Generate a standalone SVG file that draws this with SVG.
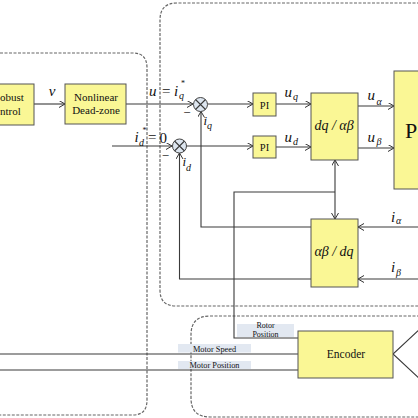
<svg xmlns="http://www.w3.org/2000/svg" width="418" height="418" viewBox="0 0 418 418">
<defs>
<marker id="ar" markerUnits="userSpaceOnUse" markerWidth="8" markerHeight="8" refX="6" refY="3.5" orient="auto">
<path d="M0,0 L6,3.5 L0,7" fill="none" stroke="#333" stroke-width="1"/>
</marker>
<style>
.box{fill:#faf795;stroke:#555;stroke-width:1}
.ln{fill:none;stroke:#3a3a3a;stroke-width:1.1}
.dash{fill:none;stroke:#666;stroke-width:1.2;stroke-dasharray:3 1.5}
.t{font-family:"Liberation Serif",serif;fill:#111}
.i{font-style:italic}
.bg{fill:#e2e8f1}
.sum{fill:#dde6f0;stroke:#444;stroke-width:1}
</style>
</defs>
<rect width="418" height="418" fill="#fff"/>

<g id="frames">
<path class="dash" d="M0,53 H133 Q147,53 147,68 V400 Q147,415 133,415 H0"/>
<path class="dash" d="M420,3 H177 Q160,3 160,20 V290 Q160,306 176,306 H420"/>
<path class="dash" d="M420,316 H210 Q191,316 191,335 V398 Q191,417 210,417 H420"/>
</g>

<g id="connectors">
<path class="ln" d="M34,104 H65" marker-end="url(#ar)"/>
<path class="ln" d="M126,104 H193" marker-end="url(#ar)"/>
<path class="ln" d="M207.5,104 H253" marker-end="url(#ar)"/>
<path class="ln" d="M276,104 H311" marker-end="url(#ar)"/>
<path class="ln" d="M112,146 H172" marker-end="url(#ar)"/>
<path class="ln" d="M186.5,146 H253" marker-end="url(#ar)"/>
<path class="ln" d="M276,147 H311" marker-end="url(#ar)"/>
<path class="ln" d="M358,106 H394" marker-end="url(#ar)"/>
<path class="ln" d="M358,148 H394" marker-end="url(#ar)"/>
<path class="ln" d="M418,227 H358" marker-end="url(#ar)"/>
<path class="ln" d="M418,279 H358" marker-end="url(#ar)"/>
<path class="ln" d="M311,227 H201 V111.5" marker-end="url(#ar)"/>
<path class="ln" d="M311,279 H179.5 V153" marker-end="url(#ar)"/>
<path class="ln" d="M298,338 H234 V192 H335"/>
<path class="ln" d="M335,192 V160" marker-end="url(#ar)"/>
<path class="ln" d="M335,192 V219" marker-end="url(#ar)"/>
<path class="ln" d="M298,354 H0"/>
<path class="ln" d="M298,370 H0"/>
<path class="ln" d="M420,329 L393,354 L420,379"/>
</g>

<g id="robust">
<rect class="box" x="-30" y="84" width="64" height="41"/>
<text class="t" x="0" y="101" font-size="11">obust</text>
<text class="t" x="0" y="115" font-size="11">ntrol</text>
</g>
<text class="t i" x="52" y="96" font-size="15" text-anchor="middle">v</text>

<g id="deadzone">
<rect class="box" x="65" y="84" width="61" height="40"/>
<text class="t" x="96" y="101" font-size="11" text-anchor="middle">Nonlinear</text>
<text class="t" x="96" y="114" font-size="11" text-anchor="middle">Dead-zone</text>
</g>

<g id="sum-q">
<circle class="sum" cx="200.5" cy="104.5" r="7"/>
<path class="ln" d="M195.5,99.5 L205.5,109.5 M205.5,99.5 L195.5,109.5"/>
</g>
<g id="sum-d">
<circle class="sum" cx="179.5" cy="146" r="7"/>
<path class="ln" d="M174.5,141 L184.5,151 M184.5,141 L174.5,151"/>
</g>

<g id="labels-q">
<text class="t i" x="149" y="96" font-size="15">u</text>
<text class="t" x="162" y="96" font-size="15">=</text>
<text class="t i" x="174" y="96" font-size="15">i</text>
<text class="t" x="181" y="86" font-size="8">*</text>
<text class="t i" x="179" y="98.5" font-size="10">q</text>
<text class="t" x="187" y="117" font-size="13" text-anchor="middle">−</text>
<text class="t i" x="203.5" y="125" font-size="13">i</text>
<text class="t i" x="207" y="129" font-size="10">q</text>
</g>
<g id="labels-d">
<text class="t i" x="134.5" y="142" font-size="15">i</text>
<text class="t" x="142.5" y="133" font-size="8">*</text>
<text class="t i" x="139" y="146" font-size="10">d</text>
<text class="t" x="148" y="142" font-size="15">=</text>
<text class="t" x="159.5" y="143" font-size="15">0</text>
<text class="t" x="165.5" y="160" font-size="13" text-anchor="middle">−</text>
<text class="t i" x="182.5" y="166" font-size="13">i</text>
<text class="t i" x="186" y="171" font-size="10">d</text>
</g>

<g id="pi-q">
<rect class="box" x="253" y="93" width="23" height="23"/>
<text class="t" x="264.5" y="108.5" font-size="10.5" text-anchor="middle">PI</text>
</g>
<g id="pi-d">
<rect class="box" x="253" y="136" width="23" height="22"/>
<text class="t" x="264.5" y="151" font-size="10.5" text-anchor="middle">PI</text>
</g>
<text class="t i" x="284.5" y="97" font-size="15">u</text>
<text class="t i" x="293" y="99.5" font-size="10">q</text>
<text class="t i" x="284.5" y="142" font-size="15">u</text>
<text class="t i" x="293" y="145" font-size="10">d</text>

<g id="dq-ab">
<rect class="box" x="311" y="93" width="47" height="67"/>
<text class="t i" x="334" y="130" font-size="14" text-anchor="middle">dq / αβ</text>
</g>
<g id="ab-dq">
<rect class="box" x="311" y="219" width="47" height="68"/>
<text class="t i" x="334" y="256" font-size="14" text-anchor="middle">αβ / dq</text>
</g>

<text class="t i" x="367.5" y="100" font-size="15">u</text>
<text class="t i" x="376.5" y="105" font-size="10">α</text>
<text class="t i" x="367.5" y="142" font-size="15">u</text>
<text class="t i" x="376.5" y="145" font-size="10">β</text>
<text class="t i" x="391" y="222" font-size="15">i</text>
<text class="t i" x="396" y="224" font-size="10">α</text>
<text class="t i" x="391" y="272" font-size="15">i</text>
<text class="t i" x="396" y="276" font-size="10">β</text>

<g id="pwm">
<rect class="box" x="394" y="71" width="40" height="118"/>
<text class="t" x="405" y="138" font-size="22">P</text>
</g>

<g id="encoder">
<rect class="box" x="298" y="331" width="95" height="47"/>
<text class="t" x="346" y="358" font-size="11.5" text-anchor="middle">Encoder</text>
</g>

<g id="signal-labels">
<rect class="bg" x="237" y="324" width="57" height="13"/>
<text class="t" x="265.5" y="328" font-size="8" text-anchor="middle">Rotor</text>
<text class="t" x="265.5" y="337" font-size="8" text-anchor="middle">Position</text>
<rect class="bg" x="178" y="344" width="73" height="8.5"/>
<text class="t" x="214.5" y="351.5" font-size="8.3" text-anchor="middle">Motor Speed</text>
<rect class="bg" x="178" y="361" width="73" height="8"/>
<text class="t" x="214.5" y="368" font-size="8.3" text-anchor="middle">Motor Position</text>
</g>
</svg>
